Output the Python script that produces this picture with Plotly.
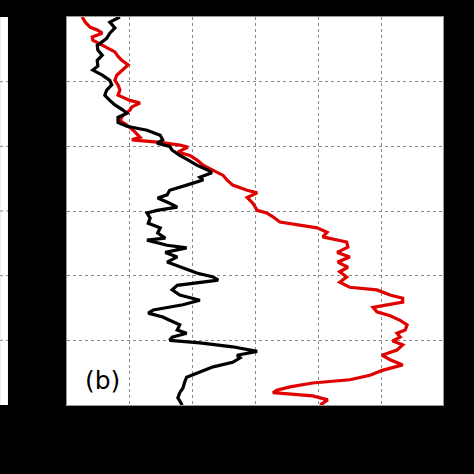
import plotly.graph_objects as go

# Black profile (value, height)
black_y = [6.00, 5.92, 5.83, 5.75, 5.67, 5.56, 5.49, 5.41, 5.33, 5.24, 5.18, 5.10, 5.02, 4.95,
           4.87, 4.79, 4.71, 4.64, 4.56, 4.51, 4.45, 4.37, 4.31, 4.25, 4.17, 4.10, 4.05, 4.00,
           3.94, 3.86, 3.79, 3.71, 3.63, 3.59, 3.52, 3.48, 3.40, 3.32, 3.25, 3.20, 3.12, 3.06,
           3.01, 2.97, 2.89, 2.81, 2.74, 2.66, 2.58, 2.55, 2.47, 2.43, 2.36, 2.29, 2.21, 2.12,
           2.04, 1.98, 1.93, 1.85, 1.78, 1.70, 1.62, 1.55, 1.47, 1.42, 1.36, 1.31, 1.24, 1.16,
           1.11, 1.05, 1.00, 0.96, 0.90, 0.83, 0.77, 0.73, 0.66, 0.59, 0.51, 0.43, 0.36, 0.26,
           0.19, 0.11, 0.00]
black_x = [0.84, 0.68, 0.76, 0.68, 0.63, 0.48, 0.49, 0.56, 0.48, 0.49, 0.41, 0.56, 0.68, 0.71,
           0.63, 0.60, 0.68, 0.76, 0.89, 0.95, 0.81, 0.81, 0.95, 1.27, 1.48, 1.52, 1.43, 1.63,
           1.67, 1.79, 1.92, 2.06, 2.24, 2.30, 2.11, 2.16, 1.90, 1.63, 1.59, 1.44, 1.63, 1.75,
           1.43, 1.27, 1.32, 1.29, 1.48, 1.44, 1.56, 1.27, 1.59, 1.90, 1.56, 1.75, 1.59, 1.84,
           2.06, 2.32, 2.40, 1.75, 1.67, 1.79, 2.11, 1.84, 1.37, 1.29, 1.52, 1.63, 1.79, 1.75,
           1.90, 1.67, 1.63, 2.11, 2.63, 3.02, 2.70, 2.75, 2.63, 2.32, 2.11, 1.90, 1.87, 1.84,
           1.79, 1.76, 1.83]

# Red profile
red_y = [6.00, 5.92, 5.84, 5.80, 5.75, 5.69, 5.64, 5.56, 5.52, 5.46, 5.39, 5.33, 5.26, 5.18,
         5.10, 5.02, 4.95, 4.87, 4.79, 4.71, 4.67, 4.61, 4.56, 4.48, 4.40, 4.33, 4.25, 4.14,
         4.10, 4.06, 4.02, 3.99, 3.91, 3.86, 3.79, 3.71, 3.63, 3.55, 3.48, 3.40, 3.32, 3.28,
         3.21, 3.12, 3.01, 2.97, 2.91, 2.83, 2.74, 2.67, 2.60, 2.52, 2.44, 2.36, 2.29, 2.21,
         2.13, 2.06, 1.98, 1.90, 1.82, 1.78, 1.70, 1.65, 1.59, 1.51, 1.44, 1.38, 1.31, 1.24,
         1.16, 1.11, 1.05, 0.99, 0.93, 0.85, 0.77, 0.70, 0.62, 0.54, 0.46, 0.39, 0.34, 0.28,
         0.23, 0.19, 0.14, 0.08, 0.00]
red_x = [0.24, 0.29, 0.37, 0.48, 0.56, 0.40, 0.41, 0.57, 0.63, 0.76, 0.81, 0.87, 0.97, 0.87,
         0.79, 0.76, 0.81, 0.84, 0.81, 1.00, 1.16, 1.03, 1.00, 0.89, 0.84, 0.95, 1.05, 1.16,
         1.03, 1.48, 1.79, 1.92, 1.76, 1.95, 2.06, 2.16, 2.32, 2.48, 2.54, 2.63, 2.86, 3.02,
         2.86, 2.95, 3.02, 3.17, 3.27, 3.38, 3.97, 4.13, 4.06, 4.44, 4.46, 4.29, 4.49, 4.30,
         4.46, 4.33, 4.44, 4.33, 4.49, 4.92, 5.13, 5.33, 5.33, 4.86, 4.92, 5.13, 5.29, 5.40,
         5.37, 5.24, 5.29, 5.17, 5.33, 5.24, 5.00, 5.13, 5.33, 5.02, 4.81, 4.49, 3.90, 3.54,
         3.33, 3.27, 3.90, 4.14, 4.02]

grid_vals = [1, 2, 3, 4, 5]
panel_label = "(b)"

fig = go.Figure()
fig.add_trace(go.Scatter(x=red_x, y=red_y, mode="lines",
                         line=dict(color="#e00000", width=3.2), showlegend=False))
fig.add_trace(go.Scatter(x=black_x, y=black_y, mode="lines",
                         line=dict(color="#000000", width=3.2), showlegend=False))

# neighbouring panel's white edge on the far left
fig.add_shape(type="rect", xref="paper", yref="y", x0=-0.178, x1=-0.157, y0=0, y1=6,
              fillcolor="white", line=dict(width=0), layer="below")
for g in grid_vals:
    fig.add_shape(type="line", xref="paper", yref="y", x0=-0.178, x1=-0.157, y0=g, y1=g,
                  line=dict(color="#888888", width=1, dash="dot"))

fig.add_annotation(x=0.56, y=0.38, text=panel_label, showarrow=False,
                   font=dict(size=25, color="black", family="DejaVu Sans"))

axis_common = dict(showgrid=True, gridcolor="#8a8a8a", griddash="dot", gridwidth=1,
                   zeroline=False, showticklabels=False, ticks="",
                   showline=True, linecolor="#999999", linewidth=1, mirror=True,
                   tickvals=grid_vals)
fig.update_xaxes(range=[0, 5.97], **axis_common)
fig.update_yaxes(range=[0, 6.0], **axis_common)

fig.update_layout(width=474, height=474,
                  margin=dict(l=67, r=31, t=17, b=69),
                  paper_bgcolor="black", plot_bgcolor="white")

fig.write_html("out.html", config={"displayModeBar": False},
               post_script="document.body.style.margin='0';document.body.style.background='black';")
